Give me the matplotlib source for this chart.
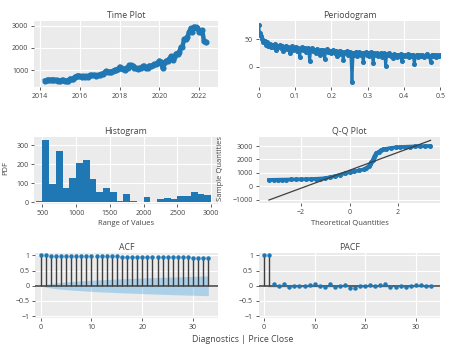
import matplotlib
matplotlib.use("Agg")
import numpy as np
import pandas as pd
import matplotlib.pyplot as plt
import matplotlib.dates as mdates
from matplotlib.ticker import FuncFormatter

# monthly closing price, Apr 2014 .. May 2022
close = [540, 560, 575, 580, 575, 585, 555, 545, 530,
         535, 560, 550, 540, 535, 525, 625, 620, 610, 705, 740, 760,
         745, 700, 745, 700, 735, 695, 770, 770, 780, 790, 750, 780,
         800, 830, 830, 910, 970, 920, 935, 940, 960, 1020, 1030, 1050,
         1160, 1100, 1040, 1020, 1080, 1120, 1220, 1230, 1200, 1090, 1100, 1040,
         1110, 1120, 1180, 1190, 1110, 1080, 1210, 1190, 1220, 1260, 1300, 1340,
         1430, 1380, 1100, 1330, 1420, 1430, 1500, 1620, 1480, 1600, 1750, 1740,
         1830, 2030, 2060, 2390, 2420, 2500, 2700, 2890, 2700, 2960, 2920, 2900,
         2720, 2700, 2800, 2300, 2250]
start_month = "2014-04-01"

# periodogram (dB) on an even frequency grid 0 .. 0.5
periodogram = [76, 62, 55, 50, 44, 47, 40, 44, 38, 42,
               35, 40, 36, 41, 30, 38, 35, 39, 33, 37,
               28, 36, 38, 32, 35, 24, 34, 37, 31, 33,
               36, 29, 34, 18, 32, 35, 30, 33, 27, 31,
               34, 10, 30, 33, 28, 31, 25, 32, 29, 22,
               31, 27, 30, 14, 28, 32, 26, 29, 24, 27,
               30, 25, 28, 20, 27, 29, 23, 26, 12, 27,
               25, 28, 22, 26, 24, -28, 25, 22, 27, 20,
               24, 26, 21, 25, 8, 24, 26, 22, 25, 19,
               26, 23, 6, 25, 21, 24, 20, 23, 25, 18,
               22, 24, 2, 23, 21, 24, 19, 22, 15, 23,
               21, 18, 22, 20, 23, 10, 21, 19, 22, 20,
               23, 18, 21, 19, 22, 5, 20, 22, 18, 21,
               19, 22, 20, 17, 21, 23, 19, 20, 8, 21,
               20, 22, 18, 21, 19, 20, 22]

# histogram, bins of 100 from 400 to 3000
hist_edges = [400, 500, 600, 700, 800, 900, 1000, 1100, 1200, 1300, 1400,
              1500, 1600, 1700, 1800, 1900, 2000, 2100, 2200, 2300, 2400,
              2500, 2600, 2700, 2800, 2900, 3000]
hist_counts = [7, 328, 96, 270, 74, 128, 205, 221, 123, 56, 77, 53, 9,
               46, 9, 2, 30, 4, 18, 25, 16, 32, 32, 53, 47, 37]

# Q-Q plot
qq_theory = [-3.32, -3.10, -2.95, -2.80, -2.6, -2.4, -2.2, -2.0, -1.8, -1.6,
             -1.4, -1.2, -1.0, -0.8, -0.6, -0.4, -0.2, 0.0, 0.2, 0.4, 0.6,
             0.7, 0.8, 0.85, 0.9, 0.95, 1.0, 1.05, 1.1, 1.2, 1.3, 1.4, 1.5,
             1.7, 1.9, 2.1, 2.3, 2.5, 2.7, 2.9, 3.1, 3.32]
qq_sample = [480, 490, 495, 500, 505, 510, 515, 520, 530, 545,
             560, 580, 610, 680, 760, 860, 960, 1050, 1120, 1180, 1270,
             1380, 1520, 1650, 1800, 1950, 2150, 2300, 2450, 2580, 2680, 2750, 2800,
             2860, 2900, 2930, 2950, 2965, 2980, 2990, 3000, 3010]
qq_line_x = [-3.32, 3.34]
qq_line_y = [-1025, 3425]

# ACF / PACF, lags 0..33
lags = list(range(34))
acf = [1.000, 0.998, 0.996, 0.994, 0.991, 0.989, 0.987, 0.985, 0.982, 0.980,
       0.978, 0.975, 0.973, 0.971, 0.968, 0.966, 0.964, 0.961, 0.959, 0.957,
       0.954, 0.952, 0.950, 0.947, 0.945, 0.943, 0.940, 0.938, 0.936, 0.933,
       0.931, 0.929, 0.926, 0.924]
acf_band = [0.0, 0.043, 0.074, 0.095, 0.112, 0.127, 0.140, 0.152, 0.163, 0.173,
            0.183, 0.192, 0.200, 0.208, 0.216, 0.224, 0.231, 0.238, 0.244, 0.251,
            0.257, 0.263, 0.269, 0.275, 0.280, 0.286, 0.291, 0.296, 0.301, 0.306,
            0.311, 0.316, 0.321, 0.325]
pacf = [1.0, 0.998, 0.05, -0.02, 0.05, -0.03, 0.0, -0.01, -0.02, 0.02,
        0.06, 0.0, -0.04, 0.05, -0.03, -0.02, 0.02, -0.06, -0.07, 0.01,
        0.0, 0.03, -0.02, 0.02, 0.06, -0.05, -0.04, -0.01, -0.03, -0.02,
        0.02, 0.03, 0.0, 0.0]
pacf_band = [0.0] + [0.043] * 33

BLUE = "#1f77b4"
TEXT = "#444444"
W, H = 474, 347

plt.rcParams["font.family"] = ["Open Sans", "DejaVu Sans"]


def minus(v, p):
    return f"{v:g}".replace("-", "\u2212")


def px_axes(fig, left, top, right, bottom):
    return fig.add_axes([left / W, 1 - bottom / H, (right - left) / W, (bottom - top) / H])


def style(ax, title):
    ax.set_facecolor("#ebebeb")
    ax.grid(True, color="white", linewidth=0.8)
    ax.set_axisbelow(True)
    for s in ax.spines.values():
        s.set_visible(False)
    ax.tick_params(labelsize=5, colors=TEXT, length=2.5, width=0.6, pad=1.5)
    ax.set_title(title, fontsize=6.3, color=TEXT, pad=2.5)


def corr_plot(ax, values, band, title):
    style(ax, title)
    band = np.array(band)
    ax.fill_between(lags, -band, band, color=(32 / 255, 146 / 255, 230 / 255, 0.3), lw=0)
    ax.axhline(0, color="#3f3f3f", lw=1.1, zorder=2)
    ax.vlines(lags, 0, values, color="#3f3f3f", lw=1.0, zorder=3)
    ax.plot(lags, values, "o", color=BLUE, ms=2.2, zorder=4)
    ax.set_xlim(-1.1, 34.9)
    ax.set_ylim(-1.06, 1.08)
    ax.set_yticks([-1, -0.5, 0, 0.5, 1])
    ax.set_xticks([0, 10, 20, 30])
    ax.yaxis.set_major_formatter(FuncFormatter(minus))


def main():
    fig = plt.figure(figsize=(W / 100, H / 100), dpi=100)

    # time plot
    ax = px_axes(fig, 34, 21, 218, 87)
    style(ax, "Time Plot")
    dates = pd.date_range(start_month, periods=len(close), freq="MS")
    ax.plot(dates, close, "-o", color=BLUE, lw=3.2, ms=3.4)
    ax.set_xlim(pd.Timestamp("2013-09-10"), pd.Timestamp("2022-12-15"))
    ax.set_ylim(250, 3210)
    ax.set_yticks([1000, 2000, 3000])
    ax.xaxis.set_major_locator(mdates.YearLocator(2))
    ax.xaxis.set_major_formatter(mdates.DateFormatter("%Y"))

    # periodogram
    ax = px_axes(fig, 258.5, 21, 440.5, 87)
    style(ax, "Periodogram")
    freq = np.linspace(0, 0.5, len(periodogram))
    ax.plot(freq, periodogram, "-o", color=BLUE, lw=2.0, ms=2.6)
    ax.set_xlim(0, 0.5)
    ax.set_ylim(-37, 83)
    ax.set_yticks([0, 50])
    ax.set_xticks([0, 0.1, 0.2, 0.3, 0.4, 0.5])
    ax.xaxis.set_major_formatter(FuncFormatter(lambda v, p: f"{v:g}"))

    # histogram
    ax = px_axes(fig, 34, 137, 218, 204)
    style(ax, "Histogram")
    ax.bar(hist_edges[:-1], hist_counts, width=100, align="edge", color=BLUE, lw=0)
    ax.set_xlim(375, 3100)
    ax.set_ylim(-8, 344)
    ax.set_xticks([500, 1000, 1500, 2000, 2500, 3000])
    ax.set_yticks([0, 100, 200, 300])

    # Q-Q plot
    ax = px_axes(fig, 258.5, 137, 440.5, 203)
    style(ax, "Q-Q Plot")
    ax.plot(qq_theory, qq_sample, "-o", color=BLUE, lw=2.6, ms=2.6)
    ax.plot(qq_line_x, qq_line_y, color="#3f3f3f", lw=0.9)
    ax.set_xlim(-3.75, 3.75)
    ax.set_ylim(-1245, 3675)
    ax.set_xticks([-2, 0, 2])
    ax.set_yticks([-1000, 0, 1000, 2000, 3000])
    ax.xaxis.set_major_formatter(FuncFormatter(minus))
    ax.yaxis.set_major_formatter(FuncFormatter(minus))

    # ACF / PACF
    corr_plot(px_axes(fig, 35, 253, 218, 318), acf, acf_band, "ACF")
    corr_plot(px_axes(fig, 258.5, 253, 440.5, 318), pacf, pacf_band, "PACF")

    # axis labels and footer title
    fig.text(6 / W, 1 - 168 / H, "PDF", rotation=90, fontsize=5.5, color=TEXT, ha="center", va="center")
    fig.text(221 / W, 1 - 168 / H, "Sample Quantities", rotation=90, fontsize=5.5, color=TEXT,
             ha="center", va="center")
    fig.text(126 / W, 1 - 223.5 / H, "Range of Values", fontsize=5.5, color=TEXT, ha="center", va="center")
    fig.text(350 / W, 1 - 223.5 / H, "Theoretical Quantities", fontsize=5.5, color=TEXT,
             ha="center", va="center")
    fig.text(243 / W, 1 - 339 / H, "Diagnostics | Price Close", fontsize=6.3, color=TEXT,
             ha="center", va="center")

    fig.savefig("out.png", dpi=100)


if __name__ == "__main__":
    main()
